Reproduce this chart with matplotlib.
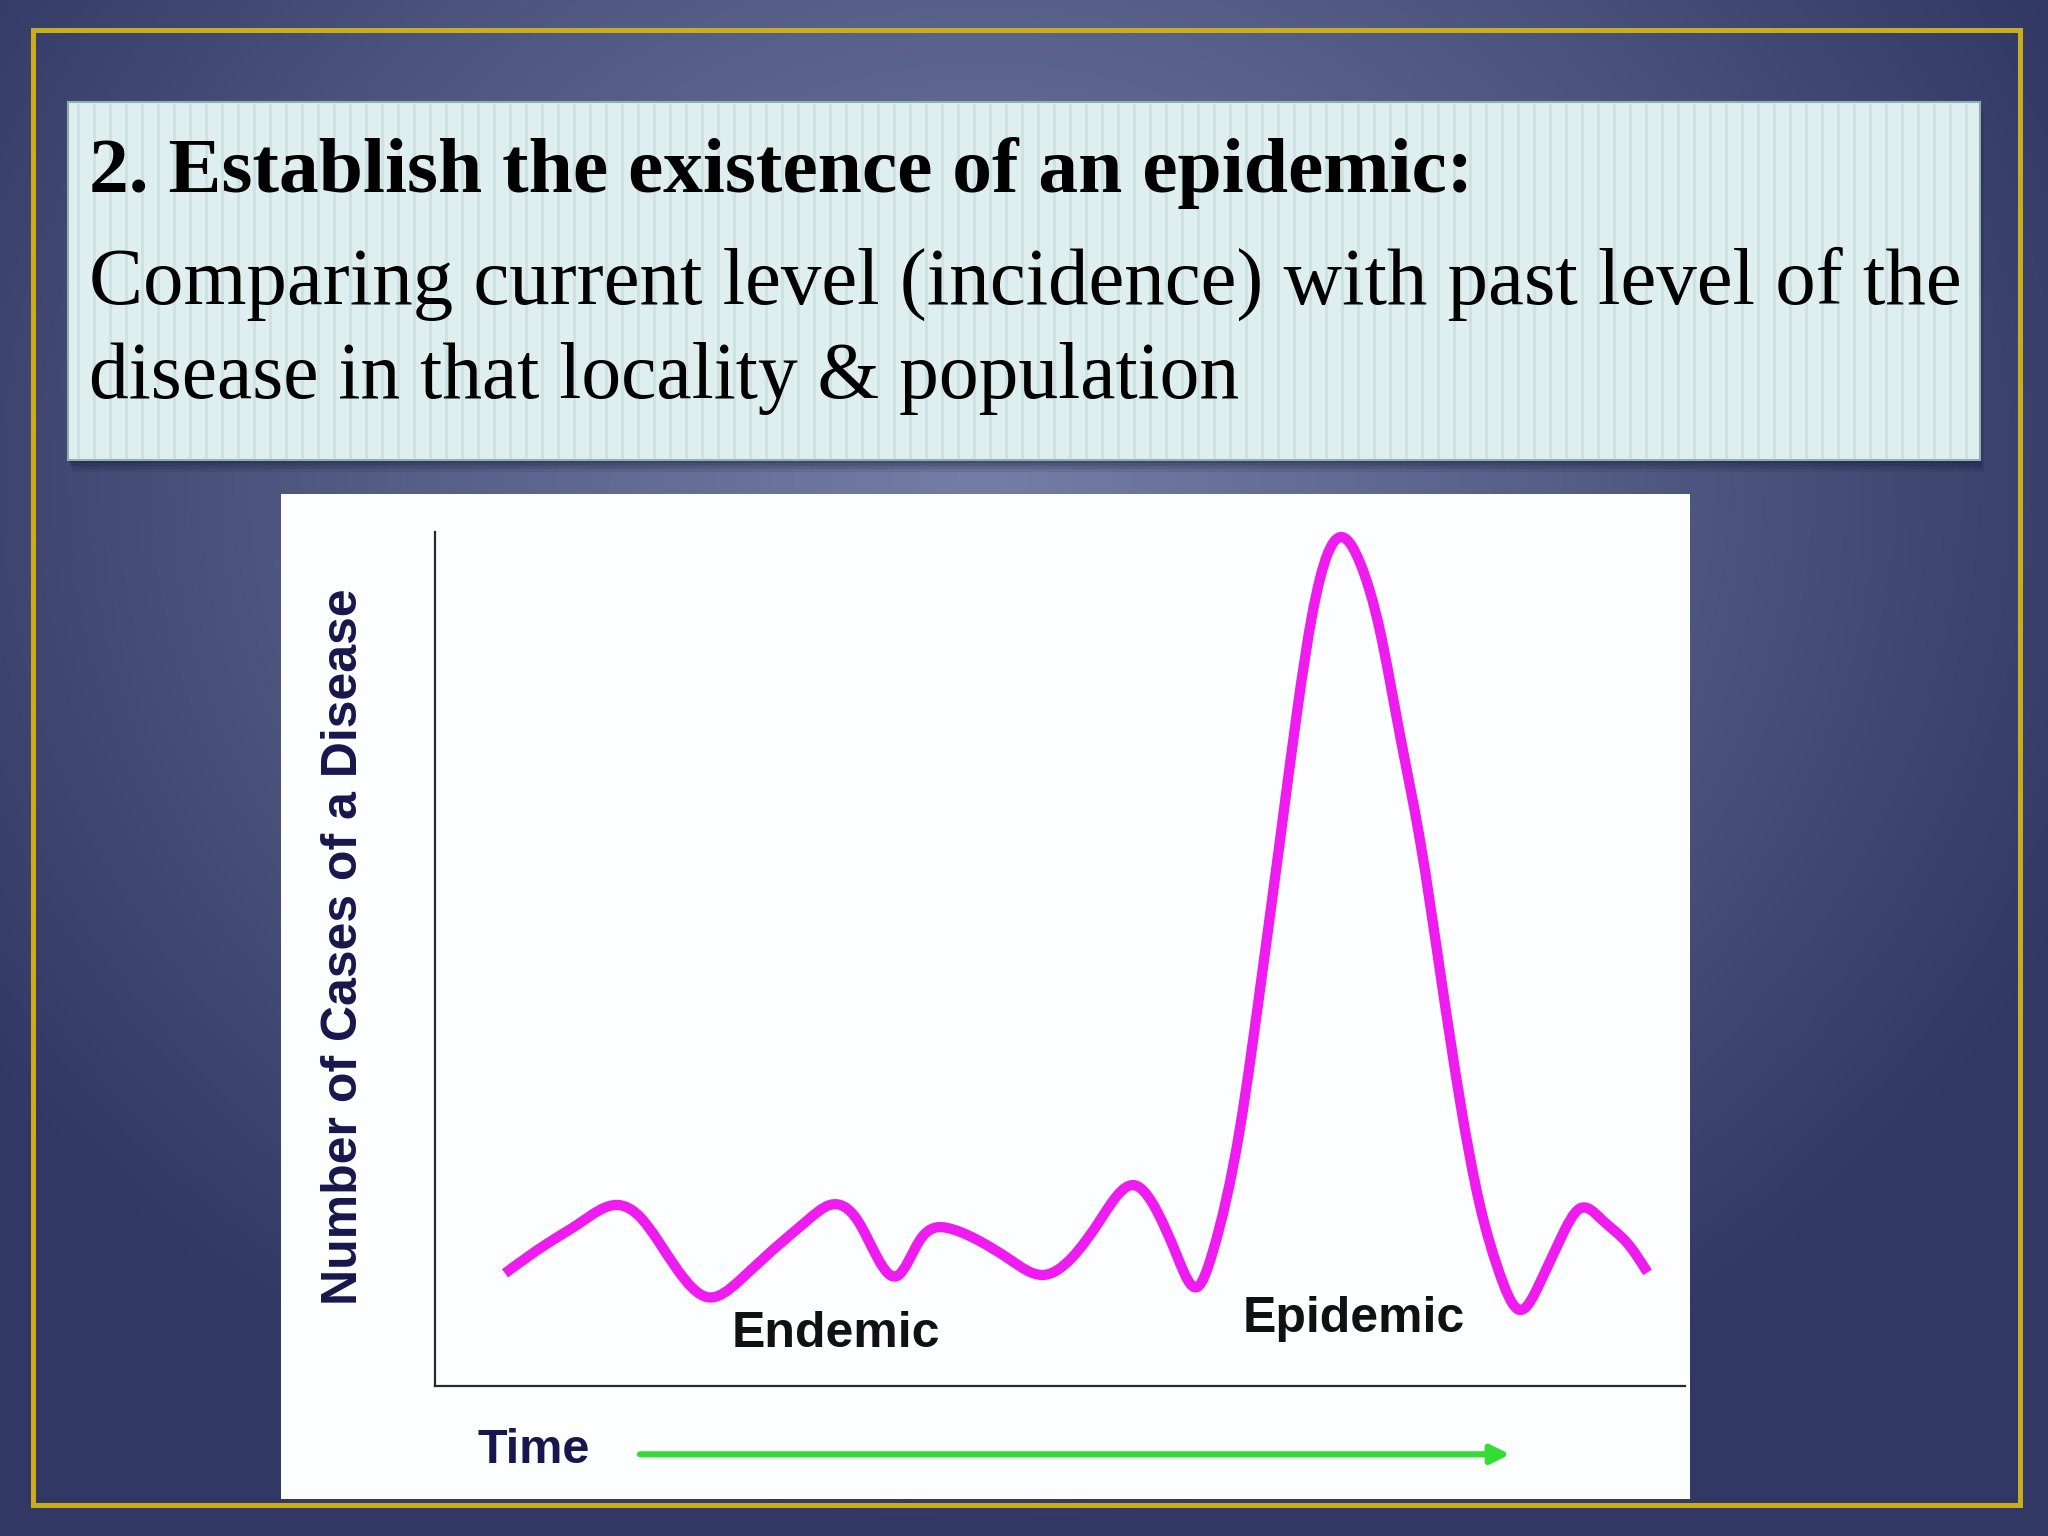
import numpy as np
import matplotlib
matplotlib.use("Agg")
import matplotlib.pyplot as plt
from matplotlib.path import Path
from matplotlib.patches import PathPatch, Rectangle

# ---------------- data ----------------
title_text = "2. Establish the existence of an epidemic:"
body_lines = ["Comparing current level (incidence) with past level of the",
              "disease in that locality & population"]
y_label = "Number of Cases of a Disease"
x_label = "Time"
label_endemic = "Endemic"
label_epidemic = "Epidemic"

# time (0-100) and number of cases (0-100, relative)
time_pts = [5.6, 9.0, 11.6, 14.6, 16.4, 17.8, 19.4, 21.8, 24.4, 27.0, 29.8, 31.6,
            33.8, 35.4, 37.0, 38.8, 41.0, 43.4, 46.0, 48.6, 51.0, 53.2, 56.0, 57.4,
            59.4, 61.0, 62.2, 64.4, 66.2, 67.6, 69.0, 70.2, 71.4, 72.4, 74.0, 75.6,
            77.2, 78.8, 80.4, 82.0, 83.6, 85.0, 86.8, 88.4, 90.0, 91.6, 93.4, 95.4, 97.0]
cases_pts = [13.2, 16.7, 19.1, 21.2, 19.8, 17.1, 13.6, 10.4, 12.4, 15.9, 19.4, 21.2,
             19.4, 15.0, 12.9, 17.1, 18.5, 17.1, 14.8, 13.0, 15.1, 19.4, 23.5, 21.4,
             15.1, 11.6, 15.6, 30.2, 48.6, 63.9, 79.3, 90.5, 97.4, 99.4, 96.4, 88.4,
             76.2, 63.9, 48.6, 33.4, 21.1, 13.9, 8.9, 12.1, 17.1, 20.8, 19.4, 16.7, 13.3]

# ---------------- figure / slide background ----------------
W, H = 2048, 1536
fig = plt.figure(figsize=(20.48, 15.36), dpi=100)
bg = fig.add_axes([0, 0, 1, 1])
bg.set_xlim(0, W)
bg.set_ylim(H, 0)
bg.axis("off")

yy, xx = np.mgrid[0:H:4, 0:W:4].astype(float)
t = np.sqrt(((xx - 980) / 1200.0) ** 2 + ((yy - 480) / 1050.0) ** 2)
t = np.clip(t, 0, 1) ** 1.1
c_center = np.array([0x74, 0x7d, 0xa4]) / 255.0
c_edge = np.array([0x30, 0x38, 0x63]) / 255.0
img = c_center[None, None, :] * (1 - t[..., None]) + c_edge[None, None, :] * t[..., None]
bg.imshow(img, extent=(0, W, H, 0), aspect="auto", zorder=0, interpolation="bilinear")

# golden frame
bg.add_patch(Rectangle((33, 30), 2020 - 33, 1505 - 30, fill=False,
                       edgecolor="#c9ad1c", lw=3.6, zorder=2))

# text box with shadow and stripes
bx0, by0, bx1, by1 = 68, 102, 1980, 460
for i, a in enumerate([0.10, 0.12, 0.15, 0.2]):
    off = 12 - i * 3
    bg.add_patch(Rectangle((bx0 + off * 0.3, by0 + off), bx1 - bx0, by1 - by0,
                           facecolor="#101530", edgecolor="none", alpha=a, zorder=3))
bg.add_patch(Rectangle((bx0, by0), bx1 - bx0, by1 - by0, facecolor="#dfefef",
                       edgecolor="#8fb0b3", lw=1.5, zorder=4))
for sx in np.arange(bx0 + 10, bx1 - 4, 16):
    bg.plot([sx, sx], [by0 + 2, by1 - 2], color="#cfe2e3", lw=2.2, zorder=5,
            solid_capstyle="butt")

# white picture panel
bg.add_patch(Rectangle((281, 494), 1690 - 281, 1499 - 494, facecolor="#fdfeff",
                       edgecolor="none", zorder=4))

# slide text (font sizes fitted to the measured line widths)
renderer = fig.canvas.get_renderer()


def fit(txt, target_w):
    w = txt.get_window_extent(renderer).width
    txt.set_fontsize(txt.get_fontsize() * target_w / w)


t1 = bg.text(89, 192, title_text, fontsize=58, fontweight="bold",
             family="Liberation Serif", color="black", ha="left", va="baseline", zorder=6)
fit(t1, 1383.0)
t2 = bg.text(89, 304, body_lines[0], fontsize=58, family="Liberation Serif",
             color="black", ha="left", va="baseline", zorder=6)
fit(t2, 1870.0)
t3 = bg.text(89, 398, body_lines[1], fontsize=58, family="Liberation Serif",
             color="black", ha="left", va="baseline", zorder=6)
fit(t3, 1150.0)

# ---------------- chart ----------------
ax = fig.add_axes([435 / W, 1 - 1386 / H, 1250 / W, 854 / H])
ax.set_facecolor("none")
ax.set_xlim(0, 100)
ax.set_ylim(0, 100)
for s in ["top", "right"]:
    ax.spines[s].set_visible(False)
for s in ["left", "bottom"]:
    ax.spines[s].set_color("#2a2a2a")
    ax.spines[s].set_linewidth(1.6)
ax.set_xticks([])
ax.set_yticks([])

# smooth curve through the read points: natural cubic spline tangents,
# drawn exactly as cubic Bezier segments by matplotlib's Path
xs = np.asarray(time_pts, float)
ys = np.asarray(cases_pts, float)
n = len(xs)
h = np.diff(xs)
d = np.diff(ys) / h
A = np.zeros((n, n))
rhs = np.zeros(n)
A[0, 0] = A[-1, -1] = 1.0
for i in range(1, n - 1):
    A[i, i - 1] = h[i - 1]
    A[i, i] = 2 * (h[i - 1] + h[i])
    A[i, i + 1] = h[i]
    rhs[i] = 6 * (d[i] - d[i - 1])
M = np.linalg.solve(A, rhs)
m = np.empty(n)
m[:-1] = d - h * (2 * M[:-1] + M[1:]) / 6
m[-1] = d[-1] + h[-1] * (M[-2] + 2 * M[-1]) / 6

verts = [(xs[0], ys[0])]
codes = [Path.MOVETO]
for i in range(n - 1):
    verts += [(xs[i] + h[i] / 3, ys[i] + m[i] * h[i] / 3),
              (xs[i + 1] - h[i] / 3, ys[i + 1] - m[i + 1] * h[i] / 3),
              (xs[i + 1], ys[i + 1])]
    codes += [Path.CURVE4] * 3
ax.add_patch(PathPatch(Path(verts, codes), facecolor="none", edgecolor="#ee1cee",
                       lw=7.4, capstyle="butt", joinstyle="round"))

sans = "Liberation Sans"
ax.text(23.7, 4.6, label_endemic, fontsize=36, fontweight="bold", family=sans,
        color="#111111", ha="left", va="baseline")
ax.text(64.6, 6.3, label_epidemic, fontsize=36, fontweight="bold", family=sans,
        color="#111111", ha="left", va="baseline")
ax.text(3.4, -9.0, x_label, fontsize=35, fontweight="bold", family=sans,
        color="#17174d", ha="left", va="baseline", clip_on=False)
ax.text(-0.073, 0.514, y_label, transform=ax.transAxes, rotation=90, fontsize=36,
        fontweight="bold", family=sans, color="#17174d", ha="center", va="center")

ax.annotate("", xy=(86.0, -8.0), xytext=(16.4, -8.0), annotation_clip=False,
            arrowprops=dict(arrowstyle="-|>,head_length=1.1,head_width=0.55",
                            color="#33dd33", lw=4.5, shrinkA=0, shrinkB=0))

fig.savefig("out.png", dpi=100)
